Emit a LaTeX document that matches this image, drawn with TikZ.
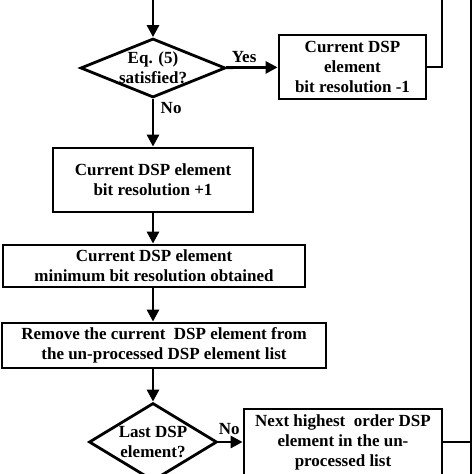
\documentclass[tikz,border=0pt]{standalone}
\usepackage{fontspec}
\setmainfont{Liberation Serif}
\usetikzlibrary{arrows.meta,
                positioning,
                shapes.geometric}

\begin{document}
\begin{tikzpicture}[
x = 1pt, y = -1pt,
            > = {Triangle[length=12pt, width=12pt]},
every path/.append style = {line width=2.8pt},
every node/.append style = {font=\bfseries\fontsize{17}{20}\selectfont},
     B/.style = {rectangle, draw, align=center, inner sep=0pt},
     D/.style = {diamond, draw, inner sep=0pt},
     T/.style = {label={[align=center]center:#1}}
                    ]
\useasboundingbox (0,0) rectangle (474,474);
\coordinate (axis) at (153,0);
\coordinate (in)   at (153,-3);
\coordinate (out)  at (442,-3);
\coordinate (railtop) at (471,-3);
\coordinate (railbot) at (471,477);
%
\node (eq)   [D, minimum width=145pt, minimum height=59pt,
              T={Eq. (5)\\satisfied?}] at (153,68) {};
\node (dec)  [B, minimum width=147pt, minimum height=64pt] at (352.5,67)
             {Current DSP\\element\\bit resolution -1};
\node (inc)  [B, minimum width=200pt, minimum height=64pt] at (153,180)
             {Current DSP element\\bit resolution +1};
\node (min)  [B, minimum width=302pt, minimum height=42pt] at (154,266)
             {Current DSP element\\minimum bit resolution obtained};
\node (rem)  [B, minimum width=324pt, minimum height=45pt] at (164,345.5)
             {Remove the current\ \ DSP element from\\the un-processed DSP element list};
\node (last) [D, minimum width=128pt, minimum height=78pt,
              T={Last DSP\\element?}] at (153,442) {};
\node (next) [B, minimum width=198pt, minimum height=66pt] at (343,442)
             {Next highest\ \ order DSP\\element in the un-\\processed list};
%
\draw[->]   (in) -- (eq);
\draw[->]   (eq) -- node[above, pos=0.35, inner sep=3pt] {Yes} (dec);
\draw       (dec.east) -| (out);
\draw[->]   (eq) -- node[right, pos=0.2, xshift=3pt] {No} (inc);
\draw[->]   (inc.south -| axis) -- (min.north -| axis);
\draw[->]   (min.south -| axis) -- (rem.north -| axis);
\draw[->]   (rem.south -| axis) -- (last);
\draw[->]   (last) -- node[above, pos=0.45, inner sep=6pt] {No} (next);
\draw       (next.east) -- (next.east -| railtop);
\draw[line width=2.2pt] (railtop) -- (railbot);
\end{tikzpicture}
\end{document}
